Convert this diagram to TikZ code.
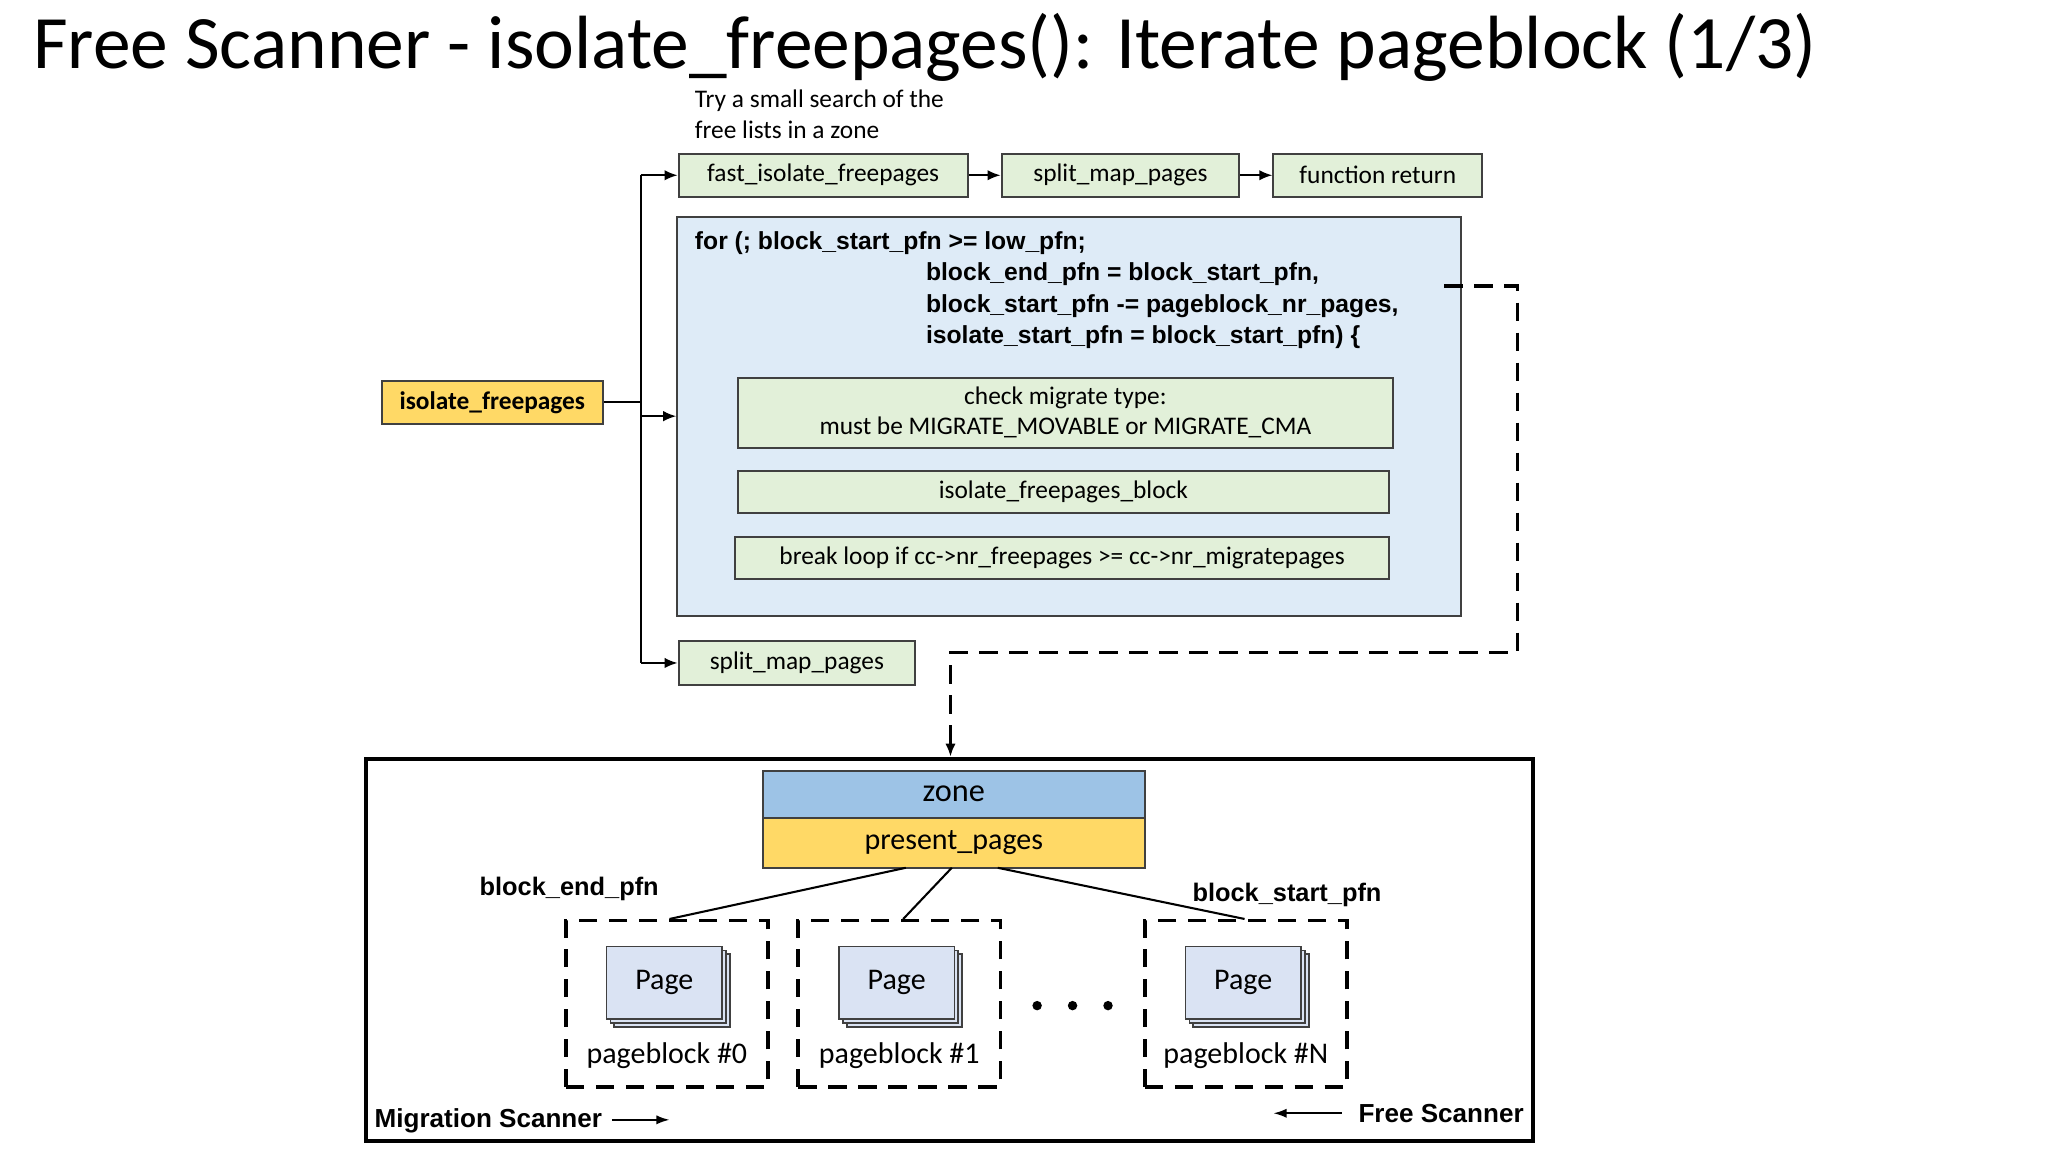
\documentclass[tikz,border=0pt]{standalone}
\usepackage{fontspec}
\setmainfont{Carlito}
\newfontfamily\arialb{Liberation Sans}
\usetikzlibrary{arrows.meta}
\definecolor{gfill}{HTML}{E2F0D9}
\definecolor{bfill}{HTML}{DEEBF7}
\definecolor{yfill}{HTML}{FFD966}
\definecolor{zfill}{HTML}{9DC3E6}
\definecolor{pfill}{HTML}{DAE3F3}
\definecolor{edge}{HTML}{404040}
\begin{document}
\begin{tikzpicture}[x=0.2mm,y=-0.2mm,
  box/.style={draw=edge,line width=0.9pt,inner sep=0pt,font=\fontsize{11}{13}\selectfont},
  gbox/.style={box,fill=gfill},
  arr/.style={line width=0.9pt,-{Latex[length=2mm,width=1.6mm]}},
  pb/.style={draw,line width=1.5pt,dash pattern=on 8pt off 5pt,minimum width=30.8mm,minimum height=25.4mm},
  page/.style={draw=edge,line width=0.8pt,fill=pfill,minimum width=17.6mm,minimum height=11mm,font=\fontsize{13}{15}\selectfont},
  bl/.style={font=\arialb\bfseries\fontsize{11}{13}\selectfont},
  code/.style={font=\arialb\bfseries\fontsize{10.7}{12}\selectfont,anchor=base west,inner sep=0pt}]
\useasboundingbox (0,0) rectangle (1560,877.5);
\node[anchor=base west,inner sep=0pt,font=\fontsize{32.7}{38}\selectfont] (title) at (25,52) {Free Scanner - isolate\_freepages(): Iterate pageblock (1/3)};
\node[anchor=north west,align=left,inner sep=0pt,font=\fontsize{11}{13.5}\selectfont] (note) at (529,68) {Try a small search of the\\free lists in a zone};
\node[gbox,minimum width=44mm,minimum height=6.6mm] (fast) at (627,133.5) {fast\_isolate\_freepages};
\node[gbox,minimum width=36.2mm,minimum height=6.6mm] (smp1) at (853.5,133.5) {split\_map\_pages};
\node[gbox,minimum width=31.8mm,minimum height=6.6mm] (fret) at (1049.5,133.5) {function return};
\node[box,fill=bfill,minimum width=119.4mm,minimum height=60.8mm] (loop) at (814.5,317) {};
\node[code] (c1) at (529,190) {for (; block\_start\_pfn >= low\_pfn;};
\node[code] (c2) at (705,214) {block\_end\_pfn = block\_start\_pfn,};
\node[code] (c3) at (705,238) {block\_start\_pfn -= pageblock\_nr\_pages,};
\node[code] (c4) at (705,262) {isolate\_start\_pfn = block\_start\_pfn) \{};
\node[gbox,minimum width=99.8mm,minimum height=10.6mm,align=center] (chk) at (811.5,314.5) {check migrate type:\\must be MIGRATE\_MOVABLE or MIGRATE\_CMA};
\node[gbox,minimum width=99.2mm,minimum height=6.4mm] (ifb) at (810,375) {isolate\_freepages\_block};
\node[gbox,minimum width=99.6mm,minimum height=6.4mm] (brk) at (809,425) {break loop if cc->nr\_freepages >= cc->nr\_migratepages};
\node[gbox,minimum width=36mm,minimum height=6.8mm] (smp2) at (607,505) {split\_map\_pages};
\node[box,fill=yfill,minimum width=33.6mm,minimum height=6.6mm,font=\bfseries\fontsize{11}{13}\selectfont] (iso) at (375,306.5) {isolate\_freepages};
\coordinate (trunk) at (488,306);
\draw[line width=0.9pt] (iso.east |- trunk) -- (trunk);
\draw[line width=0.9pt] (488,133.5) -- (488,505);
\draw[arr] (488,133.5) -- (fast.west);
\draw[arr] (488,317) -- (loop.west);
\draw[arr] (488,505) -- (smp2.west);
\draw[arr] (fast) -- (smp1);
\draw[arr] (smp1) -- (fret);
% outer
\node[draw,line width=1.8pt,minimum width=177.8mm,minimum height=58.2mm] (outer) at (723.5,723.5) {};
\coordinate (ds) at (1100,218);
\draw[line width=1.5pt,dash pattern=on 8pt off 5pt,-{Latex[length=2mm,width=1.6mm]}] (ds) -- (1156,218) -- (1156,497) -- (724,497) -- (outer.north -| 724,0);
\node[box,fill=zfill,minimum width=58.2mm,minimum height=7.2mm,font=\fontsize{14}{16}\selectfont] (zone) at (726.5,605) {zone};
\node[box,fill=yfill,minimum width=58.2mm,minimum height=7.6mm,font=\fontsize{13}{15}\selectfont] (pp) at (726.5,642) {present\_pages};
\node[bl,anchor=base west,inner sep=0pt] (bep) at (365,682) {block\_end\_pfn};
\node[bl,anchor=base west,inner sep=0pt] (bsp) at (908,687) {block\_start\_pfn};
\foreach \n/\x/\lab in {0/508/pageblock \#0,1/685/pageblock \#1,2/949/pageblock \#N}{
  \node[pb] (pb\n) at (\x,764.5) {};
  \node[page] (pgc\n) at (\x+4,754.5) {};
  \node[page] (pgb\n) at (\x+1,751.5) {};
  \node[page] (pg\n) at (\x-2,748.5) {Page};
  \node[font=\fontsize{13}{15}\selectfont] (lab\n) at (\x,804) {\lab};
}
\draw[line width=0.9pt] (690,661) -- (510,700);
\draw[line width=0.9pt] (725,661) -- (688,700);
\draw[line width=0.9pt] (760,661) -- (948,700);
\foreach \x in {790,817,844} \fill (\x,766) circle (3.6);
\node[bl,anchor=base west,inner sep=0pt,font=\arialb\bfseries\fontsize{11.3}{13}\selectfont] (ms) at (285,859) {Migration Scanner};
\coordinate (ms1) at (466,853); \coordinate (ms2) at (510,853);
\draw[line width=0.8pt,-{Latex[length=2mm,width=1.4mm]}] (ms1) -- (ms2);
\node[bl,anchor=base east,inner sep=0pt,font=\arialb\bfseries\fontsize{11.3}{13}\selectfont] (fs) at (1161,855) {Free Scanner};
\coordinate (fs1) at (1022,848); \coordinate (fs2) at (970,848);
\draw[line width=0.8pt,-{Latex[length=2mm,width=1.4mm]}] (fs1) -- (fs2);
\end{tikzpicture}
\end{document}
